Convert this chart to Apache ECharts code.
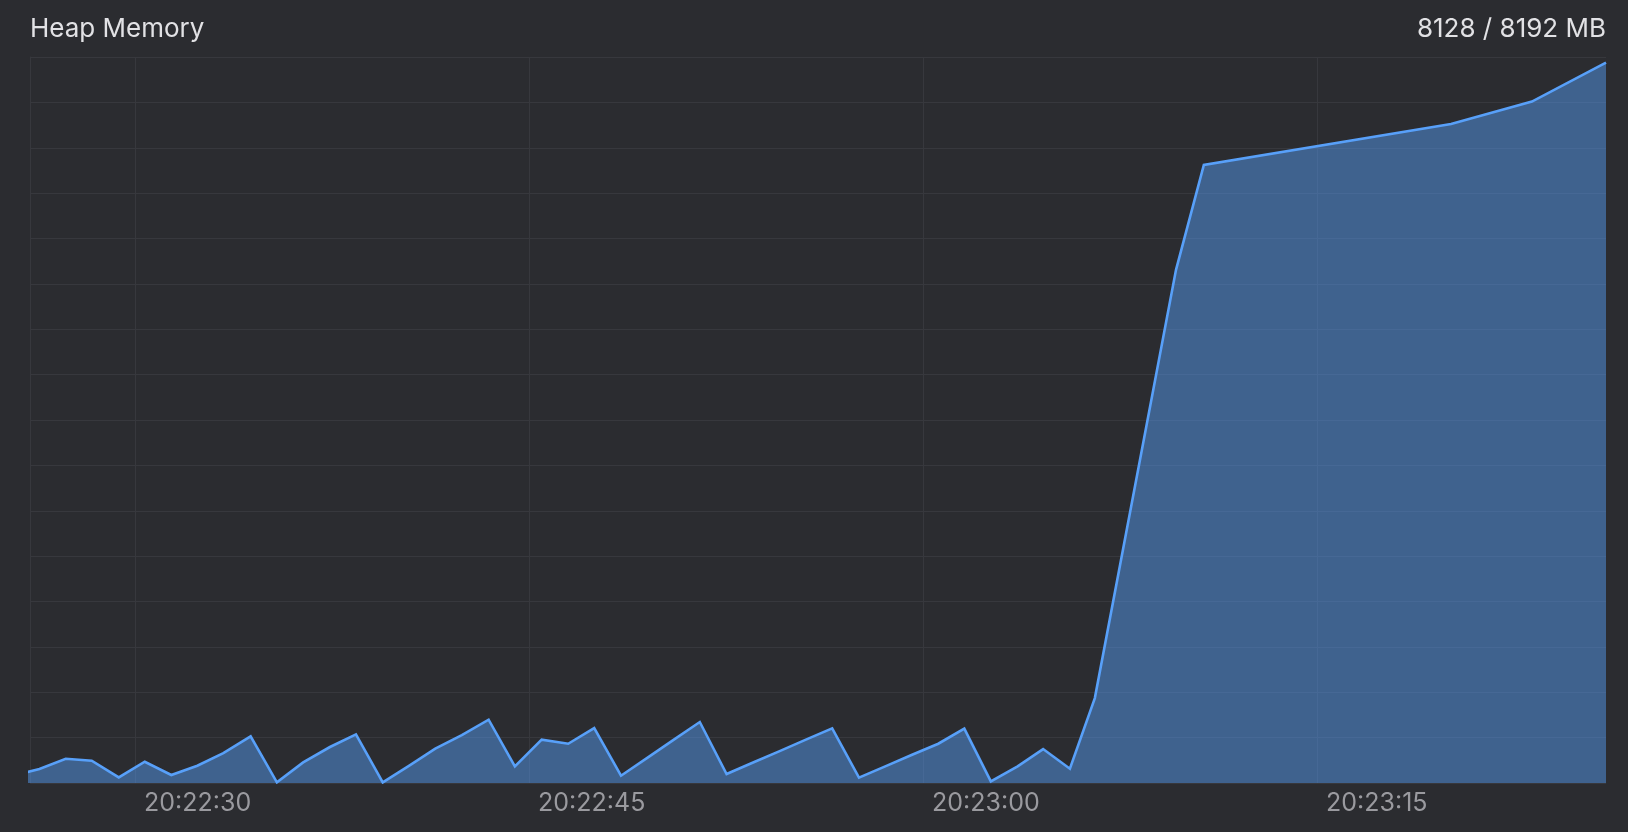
<!DOCTYPE html>
<html>
<head>
<meta charset="utf-8">
<script src="https://cdn.jsdelivr.net/npm/echarts@6/dist/echarts.min.js"></script>
<style>
  html, body { margin: 0; padding: 0; background: #2b2c30; }
  #chart { width: 1628px; height: 832px; }
</style>
</head>
<body>
<div id="chart"></div>
<script>
// ---- data ----
const chartTitle = 'Heap Memory';
const heapCapacityMB = 8192;
const windowStart = '20:22:26';
const windowEnd = '20:23:26';
const tickLabels = ['20:22:30', '20:22:45', '20:23:00', '20:23:15'];
// sample times, seconds after 20:22:26
const sampleSeconds = [
  -0.63, 0.36, 1.36, 2.35, 3.38, 4.37, 5.38, 6.37, 7.36, 8.40,
  9.40, 10.40, 11.42, 12.41, 13.43, 14.44, 15.43, 16.44, 17.46, 18.46,
  19.48, 20.49, 21.48, 22.50, 23.50, 24.50, 25.50, 26.52, 27.53, 28.54,
  29.54, 30.54, 31.56, 32.56, 33.56, 34.58, 35.57, 36.58, 37.60, 38.57,
  39.59, 40.54, 43.63, 44.69, 54.10, 57.18, 60.00
];
// heap used, MB
const heapUsedMB = [
  82, 158, 274, 252, 63, 240, 90, 195, 338, 526,
  7, 232, 406, 548, 7, 195, 387, 541, 714, 187,
  489, 443, 620, 82, 284, 486, 688, 101, 231, 360,
  489, 616, 60, 188, 316, 443, 613, 18, 188, 383,
  161, 958, 5790, 6975, 7437, 7689, 8128
];
const yStepMB = 512;

// ---- build ----
function clockToMs(str) {
  const [h, m, s] = str.split(':').map(Number);
  return new Date(2024, 0, 15, h, m, s).getTime();
}
const startMs = clockToMs(windowStart);
const endMs = clockToMs(windowEnd);
const tickMs = tickLabels.map(clockToMs);
const seriesData = sampleSeconds.map((s, i) => [startMs + s * 1000, heapUsedMB[i]]);
const currentMB = heapUsedMB[heapUsedMB.length - 1];
const pad = n => String(n).padStart(2, '0');

const FONT = 'Inter, "Noto Sans", sans-serif';
const gridColor = '#37383d';
const lineColor = '#58a0f9';

const chart = echarts.init(document.getElementById('chart'), null, { renderer: 'canvas' });
chart.setOption({
  backgroundColor: '#2b2c30',
  animation: false,
  title: [
    {
      text: chartTitle,
      left: 30, top: 16, padding: 0,
      textStyle: { color: '#e2e2e5', fontSize: 26, fontWeight: 'normal', fontFamily: FONT }
    },
    {
      text: currentMB + ' / ' + heapCapacityMB + ' MB',
      right: 22, top: 16, padding: 0,
      textStyle: { color: '#e2e2e5', fontSize: 26, fontWeight: 'normal', fontFamily: FONT }
    }
  ],
  grid: { left: 30, right: 22, top: 57, bottom: 49, containLabel: false },
  xAxis: {
    type: 'value',
    min: startMs,
    max: endMs,
    axisLine: { show: false },
    axisTick: { show: false, customValues: tickMs },
    splitLine: { show: true, lineStyle: { color: gridColor, width: 1 } },
    axisLabel: {
      customValues: tickMs,
      color: '#9a9a9f',
      fontSize: 25,
      fontFamily: FONT,
      align: 'left',
      padding: [0, 0, 0, 9],
      margin: 8,
      formatter: v => { const d = new Date(v); return pad(d.getHours()) + ':' + pad(d.getMinutes()) + ':' + pad(d.getSeconds()); }
    }
  },
  yAxis: {
    type: 'value',
    min: 0,
    max: heapCapacityMB,
    interval: yStepMB,
    axisLine: { show: true, lineStyle: { color: gridColor, width: 1 } },
    axisTick: { show: false },
    axisLabel: { show: false },
    splitLine: { show: true, lineStyle: { color: gridColor, width: 1 } }
  },
  series: [{
    type: 'line',
    data: seriesData,
    showSymbol: false,
    clip: true,
    lineStyle: { color: lineColor, width: 2.6, join: 'miter' },
    itemStyle: { color: lineColor },
    areaStyle: { color: lineColor, opacity: 0.47 }
  }]
});
</script>
</body>
</html>
